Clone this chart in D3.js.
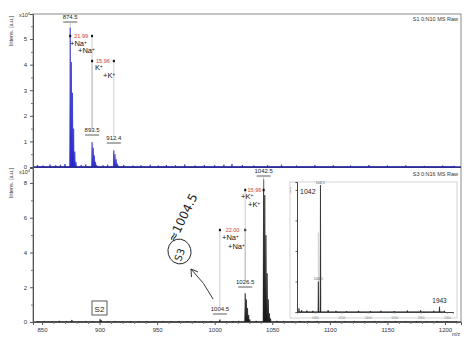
<!DOCTYPE html>
<html><head><meta charset="utf-8">
<script src="https://cdn.jsdelivr.net/npm/d3@7"></script>
<style>body{margin:0;background:#fff}svg{display:block;font-family:"Liberation Sans",Arial,sans-serif}</style>
</head><body><svg id="c" width="474" height="355"></svg>
<script>
// ---------- data ----------
// top spectrum (S1 0:N10) m/z and intensity (x10^4)
const topMz  = [846,851,857,862,866,870,874.5,875.5,876.5,877.5,878.5,879.5,884,888,893.5,894.5,895.5,896.5,897.5,903,907,912.4,913.4,914.4,915.4,916.4,921,929,936,944,951,958,966,974,983,991,1000,1008,1015,1024,1034,1046,1058,1071,1087,1103,1118,1134,1150,1166,1182,1198,1208];
const topInt = [0.08,0.06,0.1,0.07,0.09,0.12,5.45,4.1,2.9,1.5,0.6,0.2,0.08,0.1,0.97,0.75,0.45,0.2,0.08,0.07,0.09,0.65,0.5,0.3,0.13,0.05,0.08,0.06,0.07,0.09,0.06,0.08,0.07,0.1,0.06,0.08,0.07,0.09,0.12,0.08,0.06,0.07,0.09,0.06,0.08,0.07,0.06,0.08,0.06,0.07,0.05,0.06,0.05];
// bottom spectrum (S3 0:N16)
const botMz  = [846,852,859,865,871,876,882,888,894,900.5,901.5,907,913,920,927,934,941,948,955,962,969,976,983,990,997,1004.5,1010,1016,1021,1026.5,1027.5,1028.5,1029.5,1030.5,1036,1042.5,1043.5,1044.5,1045.5,1046.5,1047.5,1048.5,1054,1060,1067,1074,1081,1089,1097,1105,1113,1121,1130,1139,1148,1157,1166,1175,1184,1193,1202,1210];
const botInt = [0.05,0.06,0.05,0.07,0.06,0.12,0.05,0.06,0.05,0.16,0.1,0.05,0.06,0.05,0.06,0.05,0.06,0.05,0.06,0.05,0.06,0.05,0.06,0.05,0.06,0.14,0.05,0.06,0.07,1.65,1.3,0.8,0.4,0.15,0.07,8.2,7.3,5.0,2.8,1.3,0.5,0.2,0.07,0.06,0.05,0.06,0.05,0.06,0.05,0.06,0.05,0.06,0.05,0.06,0.05,0.06,0.05,0.06,0.05,0.06,0.05,0.05];
// inset spectrum (m/z, x10^5)
const insMz  = [880,900,940,985,1026.5,1042.5,1100,1160,1240,1330,1420,1500,1600,1700,1800,1900,1943,1980];
const insInt = [0.12,0.06,0.05,0.04,1.0,4.16,0.06,0.04,0.03,0.04,0.03,0.04,0.03,0.05,0.06,0.04,0.17,0.04];
const xTicks = [850,900,950,1000,1050,1100,1150,1200];
const topYTicks = [0,1,2,3,4,5];
const botYTicks = [0,2,4,6,8];
const insXTicks = [1000,1200,1400,1600,1800,2000];
const insYTicks = [0,1,2,3,4];
const topTitle = "S1 0:N10 MS Raw", botTitle = "S3 0:N16 MS Raw";

// ---------- layout ----------
const svg = d3.select("#c");
const L = 33, R = 461;
const x = d3.scaleLinear().domain([842.2, 1213.9]).range([L, R]);
const yT = d3.scaleLinear().domain([0, 5.98]).range([167, 14]);
const yB = d3.scaleLinear().domain([0, 8.86]).range([322, 168]);
const xI = d3.scaleLinear().domain([865, 2045]).range([297, 453]);
const yI = d3.scaleLinear().domain([0, 4.26]).range([312, 182]);
const fmt = d3.format("d");

function peaks(mz, it, w){
  const pts = [];
  mz.forEach((m,i)=>{pts.push([m-w,0],[m,it[i]],[m+w,0]);});
  return pts;
}
function drawSpec(g, mz, it, xs, ys, col, w){
  const area = d3.area().x(d=>xs(d[0])).y0(ys(0)).y1(d=>ys(d[1]));
  g.append("path").attr("d", area(peaks(mz,it,w))).attr("fill", col).attr("stroke", col).attr("stroke-width",0.6);
}
const small = 6;

// ---------- frames ----------
svg.append("rect").attr("x",L).attr("y",14).attr("width",R-L).attr("height",308).attr("fill","none").attr("stroke","#8a8a8a").attr("stroke-width",1);
svg.append("line").attr("x1",L).attr("x2",R).attr("y1",167.5).attr("y2",167.5).attr("stroke","#555").attr("stroke-width",1);

// ---------- top panel ----------
const gT = svg.append("g");
drawSpec(gT, topMz, topInt, x, yT, "#2222c8", 0.45);
gT.append("line").attr("x1",L).attr("x2",R).attr("y1",yT(0)).attr("y2",yT(0)).attr("stroke","#2a2a9a").attr("stroke-width",1.6);
gT.append("g").attr("transform",`translate(${L},0)`).call(d3.axisLeft(yT).tickValues(topYTicks).tickSize(3).tickFormat(fmt))
  .call(g=>{g.select(".domain").attr("stroke","#555");g.selectAll("text").attr("font-size",small).attr("fill","#333");g.selectAll("line").attr("stroke","#555");});
gT.append("g").attr("transform",`translate(${L},0)`).call(d3.axisLeft(yT).tickValues(d3.range(0.5,6,1)).tickSize(2).tickFormat(""))
  .call(g=>{g.select(".domain").remove();g.selectAll("line").attr("stroke","#777");});
gT.append("text").attr("x",L-3).attr("y",17).attr("text-anchor","end").attr("font-size",5.5).attr("fill","#333").html('x10<tspan dy="-2" font-size="4">4</tspan>');
gT.append("text").attr("transform","translate(13,31) rotate(-90)").attr("text-anchor","middle").attr("font-size",5.5).attr("fill","#333").text("Intens. [a.u.]");
gT.append("text").attr("x",458).attr("y",21).attr("text-anchor","end").attr("font-size",5.5).attr("fill","#333").text(topTitle);

// ---------- bottom panel ----------
const gB = svg.append("g");
drawSpec(gB, botMz, botInt, x, yB, "#111", 0.45);
gB.append("line").attr("x1",L).attr("x2",R).attr("y1",yB(0)).attr("y2",yB(0)).attr("stroke","#333").attr("stroke-width",1.2);
gB.append("g").attr("transform",`translate(${L},0)`).call(d3.axisLeft(yB).tickValues(botYTicks).tickSize(3).tickFormat(fmt))
  .call(g=>{g.select(".domain").attr("stroke","#555");g.selectAll("text").attr("font-size",small).attr("fill","#333");g.selectAll("line").attr("stroke","#555");});
gB.append("g").attr("transform",`translate(${L},0)`).call(d3.axisLeft(yB).tickValues(d3.range(1,9,2)).tickSize(2).tickFormat(""))
  .call(g=>{g.select(".domain").remove();g.selectAll("line").attr("stroke","#777");});
gB.append("g").attr("transform",`translate(0,${yB(0)})`).call(d3.axisBottom(x).tickValues(xTicks).tickSize(3).tickFormat(fmt))
  .call(g=>{g.select(".domain").attr("stroke","#555");g.selectAll("text").attr("font-size",small).attr("fill","#333");g.selectAll("line").attr("stroke","#555");});
gB.append("g").attr("transform",`translate(0,${yB(0)})`).call(d3.axisBottom(x).tickValues(d3.range(850,1211,10).filter(v=>v%50)).tickSize(2).tickFormat(""))
  .call(g=>{g.select(".domain").remove();g.selectAll("line").attr("stroke","#777");});
gB.append("text").attr("x",L-3).attr("y",174).attr("text-anchor","end").attr("font-size",5.5).attr("fill","#333").html('x10<tspan dy="-2" font-size="4">4</tspan>');
gB.append("text").attr("transform","translate(13,183) rotate(-90)").attr("text-anchor","middle").attr("font-size",5.5).attr("fill","#333").text("Intens. [a.u.]");
gB.append("text").attr("x",458).attr("y",176).attr("text-anchor","end").attr("font-size",5.5).attr("fill","#333").text(botTitle);
gB.append("text").attr("x",460).attr("y",336).attr("text-anchor","end").attr("font-size",5).attr("fill","#333").text("m/z");

// ---------- annotations ----------
function peakLabel(g, m, yText, txt){
  const cx = x(m);
  g.append("text").attr("x",cx).attr("y",yText).attr("text-anchor","middle").attr("font-size",6).attr("fill","#222").text(txt);
  g.append("line").attr("x1",cx-7).attr("x2",cx+7).attr("y1",yText+3).attr("y2",yText+3).attr("stroke","#333").attr("stroke-width",0.8);
}
function diffMark(g, m1, m2, yy, lab, yLab1, yLab2){
  const a = x(m1), b = x(m2);
  g.append("line").attr("x1",a).attr("x2",a).attr("y1",yy).attr("y2",yLab1).attr("stroke","#aaa").attr("stroke-width",0.6);
  g.append("line").attr("x1",b).attr("x2",b).attr("y1",yy).attr("y2",yLab2).attr("stroke","#aaa").attr("stroke-width",0.6);
  g.append("line").attr("x1",a).attr("x2",b).attr("y1",yy).attr("y2",yy).attr("stroke","#ddd").attr("stroke-width",0.5);
  [a,b].forEach(v=>g.append("rect").attr("x",v-1).attr("y",yy-1.2).attr("width",2).attr("height",2.4).attr("fill","#111"));
  g.append("text").attr("x",(a+b)/2).attr("y",yy+2).attr("text-anchor","middle").attr("font-size",5.5).attr("fill","#d0462e").text(lab);
}
function ion(g, xx, yy, txt){
  g.append("text").attr("x",xx).attr("y",yy).attr("font-size",7.5).attr("fill","#111")
    .html(txt+'<tspan dy="-2.5" font-size="4.5">+</tspan>');
}
const gA = svg.append("g");
peakLabel(gA, 874.5, 19, "874.5");
gA.append("line").attr("x1",x(874.5)).attr("x2",x(874.5)).attr("y1",23).attr("y2",yT(5.45)).attr("stroke","#aaa").attr("stroke-width",0.6);
peakLabel(gA, 893.5, 132, "893.5");
peakLabel(gA, 912.4, 140, "912.4");
diffMark(gA, 874.5, 893.5, 36, "21.99", 36, 129);
diffMark(gA, 893.5, 912.4, 61, "15.96", 129, 137);
ion(gA, 70, 46, "+Na");
ion(gA, 78, 53, "+Na");
ion(gA, 95, 70, "K");
ion(gA, 103, 78, "+K");

peakLabel(gA, 1042.5, 173, "1042.5");
peakLabel(gA, 1026.5, 284, "1026.5");
peakLabel(gA, 1004.5, 311, "1004.5");
diffMark(gA, 1004.5, 1026.5, 230, "22.00", 307, 280);
diffMark(gA, 1026.5, 1042.5, 190, "15.96", 280, 177);
ion(gA, 222, 240, "+Na");
ion(gA, 228, 249, "+Na");
ion(gA, 241, 199, "+K");
ion(gA, 248, 207, "+K");

// S2 box
gA.append("rect").attr("x",92).attr("y",301).attr("width",15).attr("height",14).attr("fill","none").attr("stroke","#333").attr("stroke-width",0.8);
gA.append("text").attr("x",99.5).attr("y",311.5).attr("text-anchor","middle").attr("font-size",8).attr("fill","#222").text("S2");

// handwriting
const hw = svg.append("g").attr("fill","none").attr("stroke","#222").attr("stroke-width",0.9);
hw.append("ellipse").attr("cx",179.5).attr("cy",251.5).attr("rx",11.5).attr("ry",12.5).attr("transform","rotate(-15,179.5,251.5)");
svg.append("text").attr("transform","translate(183,256) rotate(-70)").attr("text-anchor","middle").attr("font-size",10).attr("font-family","DejaVu Sans").attr("fill","#222").text("S3");
svg.append("text").attr("transform","translate(175,243) rotate(-64)").attr("font-size",12).attr("font-family","DejaVu Sans").attr("fill","#222").text("≈1004.5");
hw.append("path").attr("d","M213,299 Q205,283 191,269");
hw.append("path").attr("d","M191,269 L191.5,277 M191,269 L198,272");

// ---------- inset ----------
const gI = svg.append("g");
gI.append("rect").attr("x",290).attr("y",182).attr("width",167).attr("height",136).attr("fill","#fff").attr("stroke","#c8c8c8").attr("stroke-width",0.8);
drawSpec(gI, insMz, insInt, xI, yI, "#111", 2.6);
gI.append("line").attr("x1",xI(1026.5)).attr("x2",xI(1026.5)).attr("y1",yI(2.6)).attr("y2",yI(1.0)).attr("stroke","#aaa").attr("stroke-width",0.6);
gI.append("g").attr("transform",`translate(297,0)`).call(d3.axisLeft(yI).tickValues(insYTicks).tickSize(1.5).tickFormat(""))
  .call(g=>{g.select(".domain").attr("stroke","#444");g.selectAll("line").attr("stroke","#666");});
gI.append("g").attr("transform",`translate(0,312)`).call(d3.axisBottom(xI).tickValues(insXTicks).tickSize(1.5).tickFormat(fmt))
  .call(g=>{g.select(".domain").attr("stroke","#444");g.selectAll("line").attr("stroke","#666");g.selectAll("text").attr("font-size",3).attr("fill","#888");});
gI.append("text").attr("x",300).attr("y",194).attr("font-size",7).attr("fill","#222").text("1042");
gI.append("text").attr("x",xI(1943)).attr("y",303).attr("text-anchor","middle").attr("font-size",6.5).attr("fill","#222").text("1943");
gI.append("text").attr("x",xI(1042.5)).attr("y",yI(4.16)-1).attr("text-anchor","middle").attr("font-size",3).attr("fill","#555").text("1042.5");
gI.append("text").attr("x",xI(1026.5)).attr("y",yI(1.0)-1).attr("text-anchor","middle").attr("font-size",3).attr("fill","#555").text("1026.5");
gI.append("text").attr("transform","translate(291,190) rotate(-90)").attr("text-anchor","middle").attr("font-size",2.5).attr("fill","#777").text("Intens.");
</script></body></html>
